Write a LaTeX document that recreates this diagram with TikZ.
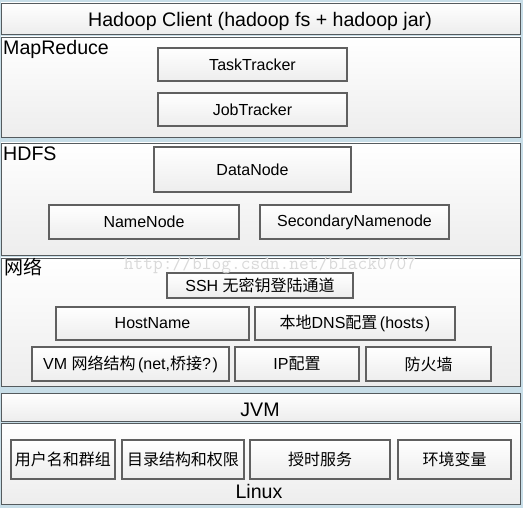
\documentclass[tikz,border=0pt]{standalone}
\usepackage{fontspec}
\setmainfont{Liberation Sans}
\newfontfamily\cjk{Noto Sans CJK SC}
\usetikzlibrary{shadings,shadows}
\newcommand\zh[1]{{\cjk #1}}
\definecolor{bgblue}{HTML}{C8DEE8}
\definecolor{layeredge}{HTML}{555B5E}
\definecolor{compedge}{HTML}{606060}
\definecolor{fillbot}{HTML}{EDEDED}
\begin{document}
\begin{tikzpicture}[x=1pt,y=-1pt,
  layer/.style={draw=layeredge,line width=0.9pt,top color=white,bottom color=fillbot,
    rectangle,inner sep=0pt,minimum width=519pt},
  comp/.style={draw=compedge,line width=1.1pt,top color=white,bottom color=fillbot,
    rectangle,inner sep=0pt,font=\fontsize{16}{18}\selectfont,
    drop shadow={shadow xshift=1pt,shadow yshift=-1pt,fill=black!30,opacity=0.6}},
  seclabel/.style={inner sep=0pt,font=\fontsize{19.6}{22}\selectfont},
  zhtext/.style={font=\fontsize{16}{18}\selectfont\cjk}
]
\useasboundingbox[fill=bgblue] (0,0) rectangle (523,508);
% layers
\node[layer,minimum height=31pt] (client) at (260.5,18.5) {};
\node[seclabel,anchor=base] (clientlbl) at (260,27) {Hadoop Client (hadoop fs + hadoop jar)};
\node[layer,minimum height=100pt] (mr) at (260.5,87) {};
\node[seclabel,anchor=base west] (mrlbl) at (3,55) {MapReduce};
\node[layer,minimum height=112pt] (hdfs) at (260.5,199) {};
\node[seclabel,anchor=base west] (hdfslbl) at (3,161) {HDFS};
\node[layer,minimum height=128pt] (net) at (260.5,322) {};
\node[seclabel,anchor=base west,font=\fontsize{19}{22}\selectfont\cjk] (netlbl) at (4,275) {网络};
\node[layer,minimum height=28pt] (jvm) at (260.5,407) {};
\node[seclabel,anchor=base] (jvmlbl) at (260,416) {JVM};
\node[layer,minimum height=81pt] (linux) at (260.5,463.5) {};
\node[seclabel,anchor=base] (linuxlbl) at (259,498) {Linux};
% MapReduce
\node[comp,minimum width=189pt,minimum height=33pt] (tt) at (252.5,64.5) {TaskTracker};
\node[comp,minimum width=189pt,minimum height=33pt] (jt) at (252.5,109.5) {JobTracker};
% HDFS
\node[comp,minimum width=197pt,minimum height=45pt] (dn) at (252.5,169.5) {DataNode};
\node[comp,minimum width=190pt,minimum height=34pt] (nn) at (144,222) {NameNode};
\node[comp,minimum width=189pt,minimum height=34pt] (snn) at (354.5,222) {SecondaryNamenode};
% network
\node[comp,minimum width=186pt,minimum height=25pt] (ssh) at (260,285.5) {SSH \zh{无密钥登陆通道}};
\node[comp,minimum width=193pt,minimum height=33pt] (host) at (152.5,323.5) {HostName};
\node[comp,minimum width=200pt,minimum height=33pt] (dns) at (355,323.5) {\zh{本地}DNS\zh{配置}\hspace{2.5pt}(hosts\hspace{1.5pt})};
\node[comp,minimum width=197pt,minimum height=34pt] (vm) at (130.5,364) {VM \zh{网络结构}\hspace{2.5pt}(net,\zh{桥接}?\hspace{1.5pt})};
\node[comp,minimum width=124pt,minimum height=34pt] (ip) at (297,364) {IP\zh{配置}};
\node[comp,minimum width=125pt,minimum height=34pt,zhtext] (fw) at (428.5,364) {防火墙};
% Linux
\node[comp,minimum width=104pt,minimum height=39pt,zhtext] (user) at (63,459.5) {用户名和群组};
\node[comp,minimum width=122pt,minimum height=39pt,zhtext] (dir) at (183,459.5) {目录结构和权限};
\node[comp,minimum width=140pt,minimum height=39pt,zhtext] (ntp) at (320,459.5) {授时服务};
\node[comp,minimum width=113pt,minimum height=39pt,zhtext] (env) at (454.5,459.5) {环境变量};
% watermark
\node[inner sep=0pt,text=black!15,font=\fontsize{18.9}{20}\ttfamily] (wm) at (270,265) {http://blog.csdn.net/black0707};
\end{tikzpicture}
\end{document}
